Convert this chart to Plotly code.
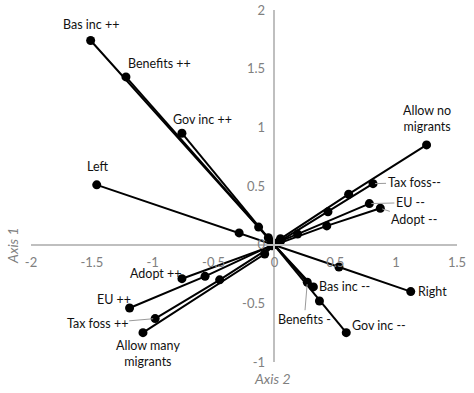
import plotly.graph_objects as go

# ---- data ----
bas_inc_x = [-1.51, -0.13, -0.02, 0.32]
bas_inc_y = [1.74, 0.15, 0.02, -0.36]

benefits_x = [-1.22, -0.05, 0.27]
benefits_y = [1.43, 0.06, -0.32]

gov_inc_x = [-0.76, -0.02, 0.37, 0.59]
gov_inc_y = [0.95, 0.02, -0.48, -0.75]

left_right_x = [-1.46, -0.29, 0.00, 0.53, 1.12]
left_right_y = [0.51, 0.10, 0.00, -0.19, -0.40]

migrants_x = [-1.08, -0.08, 0.05, 0.61, 1.25]
migrants_y = [-0.75, -0.08, 0.05, 0.43, 0.85]

tax_foss_x = [-0.98, -0.45, 0.03, 0.44, 0.81]
tax_foss_y = [-0.63, -0.30, 0.02, 0.28, 0.52]

eu_x = [-1.19, -0.57, 0.05, 0.19, 0.78]
eu_y = [-0.54, -0.27, 0.03, 0.09, 0.35]

adopt_x = [-0.76, -0.02, 0.43, 0.87]
adopt_y = [-0.29, -0.01, 0.16, 0.31]

x_tick_vals = [-2, -1.5, -1, -0.5, 0, 0.5, 1, 1.5]
x_tick_text = ["-2", "-1.5", "-1", "-0.5", "0", "0.5", "1", "1.5"]
y_tick_vals = [-1, -0.5, 0, 0.5, 1, 1.5, 2]
y_tick_text = ["-1", "-0.5", "0", "0.5", "1", "1.5", "2"]

x_title = "Axis 2"
y_title = "Axis 1"

series = [
    (bas_inc_x, bas_inc_y),
    (benefits_x, benefits_y),
    (gov_inc_x, gov_inc_y),
    (left_right_x, left_right_y),
    (migrants_x, migrants_y),
    (tax_foss_x, tax_foss_y),
    (eu_x, eu_y),
    (adopt_x, adopt_y),
]

# labels: (text, series index, point index)
labels = [
    ("Bas inc ++", 0, 0), ("Bas inc --", 0, 3),
    ("Benefits ++", 1, 0), ("Benefits -", 1, 2),
    ("Gov inc ++", 2, 0), ("Gov inc --", 2, 3),
    ("Left", 3, 0), ("Right", 3, 4),
    ("Allow many<br>migrants", 4, 0), ("Allow no<br>migrants", 4, 4),
    ("Tax foss ++", 5, 0), ("Tax foss--", 5, 4),
    ("EU ++", 6, 0), ("EU --", 6, 4),
    ("Adopt ++", 7, 0), ("Adopt --", 7, 3),
]

# label placement (pixel offsets from the point; leader = drawn connector)
label_style = {
    "Bas inc ++": (0, 16, False),
    "Bas inc --": (31, 0, False),
    "Benefits ++": (34, 13, False),
    "Benefits -": (-3, -37, True),
    "Gov inc ++": (21, 14, False),
    "Gov inc --": (33, 7, False),
    "Left": (1, 18, False),
    "Right": (22, 0, False),
    "Allow many<br>migrants": (5, -21, False),
    "Allow no<br>migrants": (0, 26, False),
    "Tax foss ++": (-58, -5, True),
    "Tax foss--": (41, 1, True),
    "EU ++": (-16, 9, False),
    "EU --": (41, 1, True),
    "Adopt ++": (-26, 5, False),
    "Adopt --": (34, -11, True),
}

FONT = "Lato, 'Open Sans', sans-serif"
LABEL_SIZE = 12.5
TICK_SIZE = 13

fig = go.Figure()
for sx, sy in series:
    fig.add_trace(go.Scatter(
        x=sx, y=sy, mode="lines+markers",
        line=dict(color="black", width=2),
        marker=dict(color="black", size=9),
        showlegend=False, hoverinfo="skip",
    ))

annotations = []
for text, si, pi in labels:
    px = series[si][0][pi]
    py = series[si][1][pi]
    dx, dy, leader = label_style[text]
    if leader:
        annotations.append(dict(
            x=px, y=py, xref="x", yref="y", text=text,
            showarrow=True, ax=dx, ay=-dy, arrowhead=0, arrowwidth=1,
            arrowcolor="#9a9a9a", standoff=2,
            font=dict(family=FONT, size=LABEL_SIZE, color="#111111"),
        ))
    else:
        annotations.append(dict(
            x=px, y=py, xref="x", yref="y", text=text,
            showarrow=False, xshift=dx, yshift=dy,
            font=dict(family=FONT, size=LABEL_SIZE, color="#111111"),
        ))

annotations.append(dict(
    x=0.568, y=0, xref="paper", yref="paper", yshift=-16, text="<i>" + x_title + "</i>",
    showarrow=False, yanchor="middle",
    font=dict(family=FONT, size=14, color="#7f7f7f"),
))
annotations.append(dict(
    x=-0.042, y=0.33, xref="paper", yref="paper", text="<i>" + y_title + "</i>",
    showarrow=False, textangle=-90, xanchor="center", yanchor="middle",
    font=dict(family=FONT, size=14, color="#7f7f7f"),
))

x_range = [-2, 1.5]
y_range = [-1, 2]

fig.update_layout(
    width=474, height=393,
    margin=dict(l=31, r=17, t=10, b=31, autoexpand=False),
    paper_bgcolor="white", plot_bgcolor="white",
    font=dict(family=FONT, size=12, color="#808080"),
    xaxis=dict(
        range=x_range, anchor="free", automargin=False,
        position=(0 - y_range[0]) / (y_range[1] - y_range[0]),
        showgrid=False, zeroline=False, showline=True,
        linecolor="#bfbfbf", linewidth=1.5,
        tickvals=x_tick_vals, ticktext=x_tick_text, ticks="",
        ticklabelstandoff=6,
        tickfont=dict(family=FONT, size=TICK_SIZE, color="#808080"),
        fixedrange=True,
    ),
    yaxis=dict(
        range=y_range, anchor="free", automargin=False,
        position=(0 - x_range[0]) / (x_range[1] - x_range[0]),
        showgrid=False, zeroline=False, showline=True,
        linecolor="#bfbfbf", linewidth=1.5,
        tickvals=y_tick_vals, ticktext=y_tick_text, ticks="",
        ticklabelstandoff=6,
        tickfont=dict(family=FONT, size=TICK_SIZE, color="#808080"),
        fixedrange=True,
    ),
    annotations=annotations,
)

fig.write_html(
    "out.html",
    config={"displayModeBar": False},
    post_script="document.body.style.margin='0px';document.body.style.overflow='hidden';",
)
